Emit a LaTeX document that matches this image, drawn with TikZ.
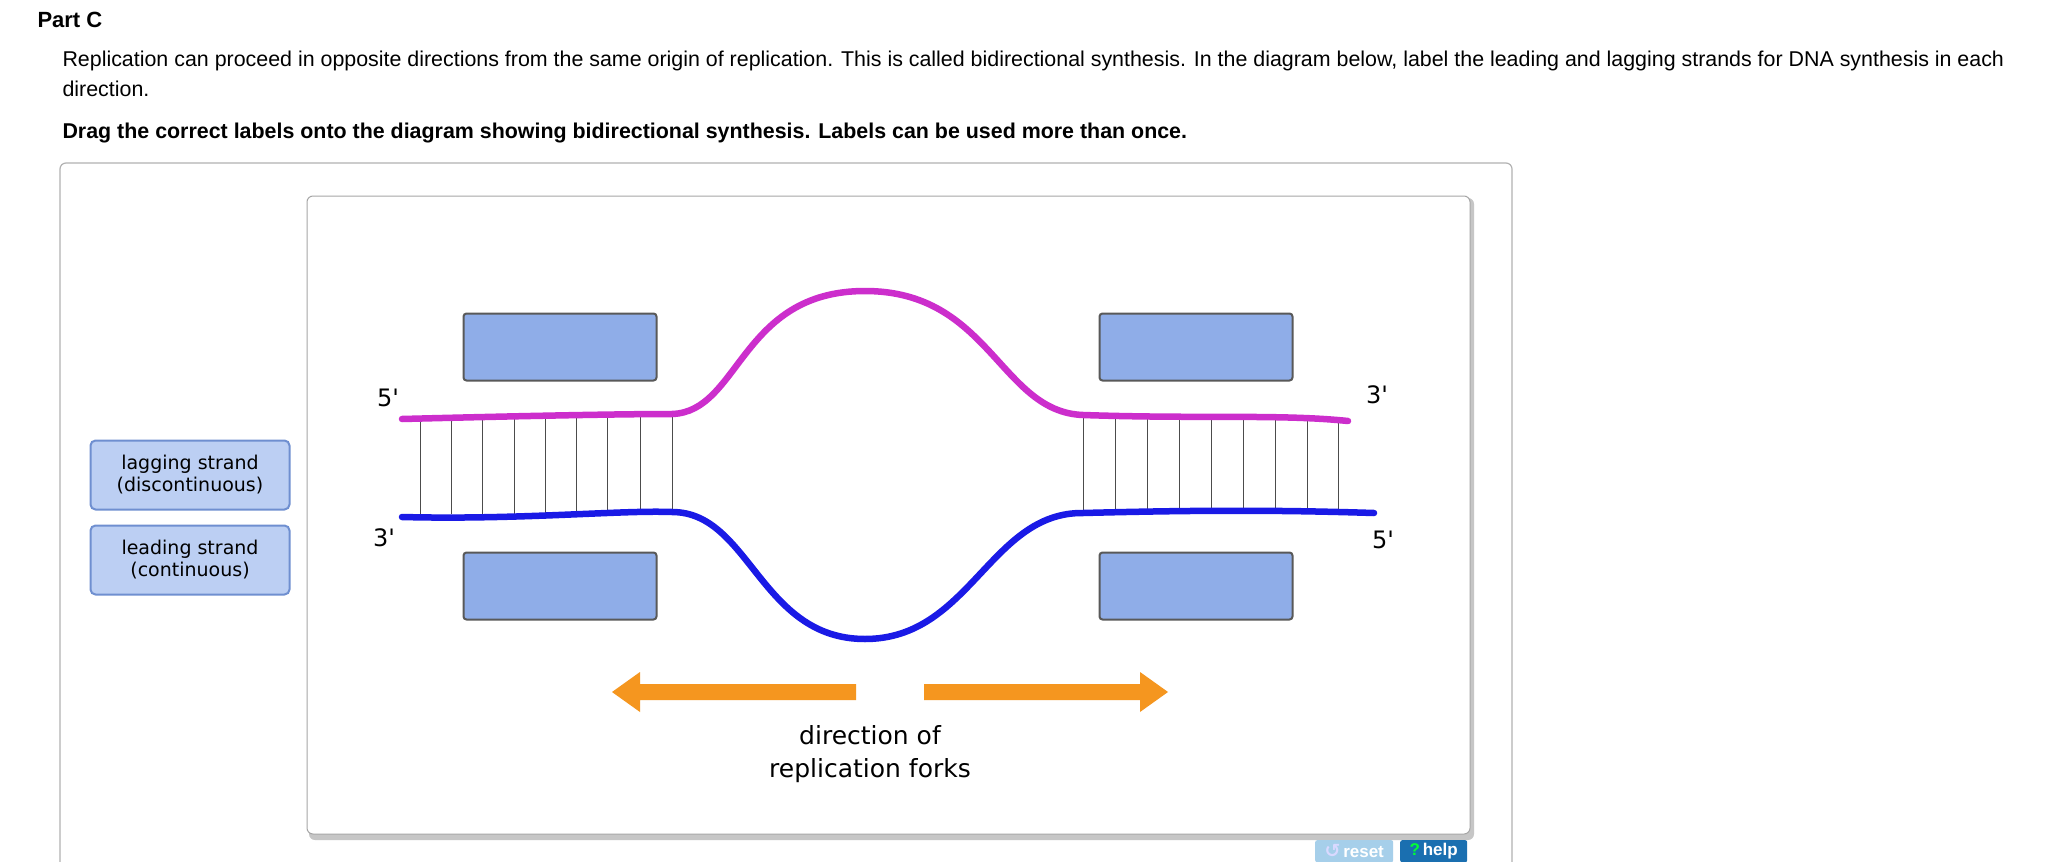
\documentclass[tikz,border=0pt]{standalone}
\usepackage{fontspec}
\setmainfont{Liberation Sans}
\newfontfamily\verd{DejaVu Sans}
\definecolor{slotblue}{HTML}{8FADE8}
\definecolor{tileblue}{HTML}{BCCFF3}
\definecolor{tileedge}{HTML}{6F8FD0}
\definecolor{mag}{HTML}{CC2ECC}
\definecolor{dnablue}{HTML}{1A1AE6}
\definecolor{fork}{HTML}{F5961F}
\definecolor{resetbg}{HTML}{A6CFEA}
\definecolor{helpbg}{HTML}{1A6FB0}
\tikzset{
 slot/.style={draw=gray!70!black,line width=2pt,fill=slotblue,rounded corners=3pt,minimum width=193pt,minimum height=67pt},
 tile/.style={draw=tileedge,line width=2pt,fill=tileblue,rounded corners=5pt,minimum width=199pt,minimum height=69pt,align=center,font=\verd\fontsize{19}{22}\selectfont},
 prime/.style={font=\verd\fontsize{24}{26}\selectfont},
 rung/.style={draw=black!70,line width=1pt},
 btn/.style={text=white,font=\bfseries\fontsize{17}{18}\selectfont,minimum height=22pt,anchor=north west,inner sep=0pt,rounded corners=2pt},
}
\begin{document}
\begin{tikzpicture}[x=1pt,y=-1pt]
\useasboundingbox (0,0) rectangle (2046,862);
\fill[white] (0,0) rectangle (2046,862);
\node[anchor=west,font=\bfseries\fontsize{22}{24}\selectfont] (title) at (34,20) {Part C};
\node[anchor=west,font=\fontsize{21.4}{24}\selectfont] (p1) at (59,61) {Replication can proceed in opposite directions from the same origin of replication. This is called bidirectional synthesis. In the diagram below, label the leading and lagging strands for DNA synthesis in each};
\node[anchor=west,font=\fontsize{21.4}{24}\selectfont] (p2) at (59,89) {direction.};
\node[anchor=west,font=\bfseries\fontsize{21.4}{24}\selectfont] (p3) at (59,133) {Drag the correct labels onto the diagram showing bidirectional synthesis. Labels can be used more than once.};
\draw[gray!60,line width=1.2pt,rounded corners=6pt] (60,900) -- (60,163) -- (1512,163) -- (1512,900);
\fill[gray!45,rounded corners=6pt] (309,198) rectangle (1474,840);
\draw[gray!70,line width=1pt,fill=white,rounded corners=6pt] (307,196) rectangle (1470,834);
\node[slot] (s1) at (560,347) {};
\node[slot] (s2) at (1196,347) {};
\node[slot] (s3) at (560,586) {};
\node[slot] (s4) at (1196,586) {};
\node[tile] (t1) at (190,475) {lagging strand\\(discontinuous)};
\node[tile] (t2) at (190,560) {leading strand\\(continuous)};
\foreach \x in {420,451,482,514,545,576,607,640,672}{\draw[rung] (\x,416) -- (\x,514);}
\foreach \x in {1083,1115,1147,1179,1211,1243,1275,1307,1338}{\draw[rung] (\x,417) -- (\x,514);}
\draw[mag,line width=6.5pt,line cap=round] (402,419) .. controls (520,416) and (620,414) .. (672,414) .. controls (740,412) and (740,291) .. (865,291) .. controls (990,291) and (1000,412) .. (1083,415) .. controls (1200,419) and (1280,414) .. (1348,421);
\draw[dnablue,line width=6.5pt,line cap=round] (402,517) .. controls (520,520) and (620,510) .. (672,512) .. controls (750,512) and (760,639) .. (865,639) .. controls (970,639) and (990,512) .. (1083,513) .. controls (1200,510) and (1280,510) .. (1374,513);
\node[prime] (a) at (388,398) {5'};
\node[prime] (b) at (384,538) {3'};
\node[prime] (c) at (1377,395) {3'};
\node[prime] (d) at (1383,540) {5'};
\fill[fork] (856,684) -- (640,684) -- (640,672) -- (612,692) -- (640,712) -- (640,700) -- (856,700) -- cycle;
\fill[fork] (924,684) -- (1140,684) -- (1140,672) -- (1168,692) -- (1140,712) -- (1140,700) -- (924,700) -- cycle;
\node[align=center,font=\verd\fontsize{25}{33}\selectfont] (lbl) at (870,754) {direction of\\replication forks};
\node[btn,fill=resetbg,minimum width=78pt] (reset) at (1315,840) {{\verd\fontsize{19}{19}\selectfont\color{blue!15}↺}\,reset};
\node[btn,fill=helpbg,minimum width=67pt] (help) at (1400,840) {\textcolor{green!80!cyan}{?}\,help};
\end{tikzpicture}
\end{document}
